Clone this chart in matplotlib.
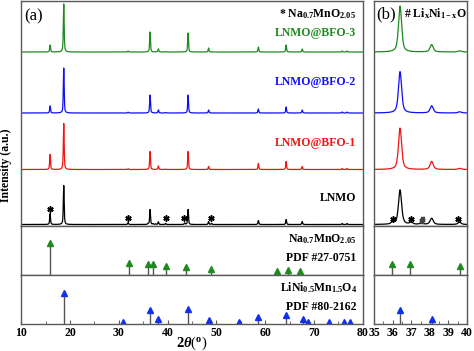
import matplotlib
matplotlib.use('Agg')
import matplotlib.pyplot as plt
import numpy as np
from matplotlib.ticker import MultipleLocator

plt.rcParams['font.family'] = 'Liberation Serif'
plt.rcParams['font.weight'] = 'bold'
plt.rcParams['mathtext.fontset'] = 'custom'
plt.rcParams['mathtext.rm'] = 'Liberation Serif:bold'
plt.rcParams['mathtext.bf'] = 'Liberation Serif:bold'
plt.rcParams['mathtext.it'] = 'Liberation Serif:italic:bold'

# ---- data ----
# XRD peaks: common positions (2theta), heights per sample (a.u.)
peak_pos = [15.9, 18.7, 31.9, 36.0, 36.4, 37.0, 37.55, 38.1, 39.6, 43.5, 44.2, 48.4, 49.0, 58.6, 64.3, 67.6, 75.8, 76.8]
h_lnmo = [11, 39, 2.0, 0.8, 15, 0.8, 0.6, 2.7, 1.0, 1.5, 15, 3.0, 1.2, 4, 5, 3, 1.0, 1.0]
h_bfo1 = [15, 46, 0.8, 0.0, 18, 0.0, 0.0, 3.5, 0.5, 0.0, 18, 3.0, 0.0, 6, 8, 3, 1.0, 1.0]
h_bfo2 = [7, 45, 0.8, 0.0, 18, 0.0, 0.0, 3.1, 0.5, 0.0, 18, 3.0, 0.0, 4, 6, 3, 1.0, 1.0]
h_bfo3 = [7, 48, 1.0, 0.0, 20, 0.0, 0.0, 3.2, 0.5, 0.0, 19, 4.0, 0.0, 5, 7, 3, 1.0, 1.0]
baselines = [1.5, 56.5, 113, 174]          # LNMO, BFO-1, BFO-2, BFO-3
samples = ['LNMO', 'LNMO@BFO-1', 'LNMO@BFO-2', 'LNMO@BFO-3']
colors = ['black', '#f01414', '#1010f0', '#1f8a1f']
zoom_gain = 2.3                             # vertical gain of panel (b)

# impurity marks on LNMO pattern
star_a_x = [15.9, 31.9, 39.6, 43.3, 48.9]
star_a_y = [17, 8, 8, 8, 8]
star_b_x = [36.0, 37.0, 39.5]
star_b_y = [7, 7, 7]
hash_b_x = [37.56]
hash_b_y = [6]

# reference patterns
na_pos = [15.9, 32.1, 35.95, 36.95, 39.6, 43.7, 48.9, 62.4, 64.6, 67.1]
na_int = [0.66, 0.25, 0.22, 0.22, 0.19, 0.16, 0.13, 0.09, 0.10, 0.09]
ln_pos = [18.7, 30.9, 36.4, 38.1, 44.2, 48.5, 54.6, 58.5, 64.3, 67.7, 68.8, 73.0, 76.2, 77.3]
ln_int = [0.64, 0.05, 0.29, 0.11, 0.30, 0.09, 0.04, 0.15, 0.18, 0.10, 0.05, 0.05, 0.05, 0.05]


def pattern(x, heights, fwhm=0.2, eta=0.6):
    y = np.zeros_like(x)
    g = fwhm / 2
    s = fwhm / 2.3548
    for p, h in zip(peak_pos, heights):
        lor = g**2 / ((x - p)**2 + g**2)
        gau = np.exp(-(x - p)**2 / (2 * s**2))
        y += h * (eta * lor + (1 - eta) * gau)
    return y


W, H = 474, 351
def box(x0, x1, y0, y1):
    return [x0 / W, 1 - y1 / H, (x1 - x0) / W, (y1 - y0) / H]

fig = plt.figure(figsize=(4.74, 3.51), dpi=100)
cols = [(21.3, 362.7, (10, 80), 10, 5), (374, 467, (35, 40), 1, 0.5)]
rows = [(1, 226), (226, 275), (275, 324)]
spine_c = '#5a5a5a'

x = np.arange(10, 80, 0.004)
heights = [h_lnmo, h_bfo1, h_bfo2, h_bfo3]

axes = []
for ci, (x0, x1, xl, maj, mnr) in enumerate(cols):
    col_axes = []
    for ri, (y0, y1) in enumerate(rows):
        ax = fig.add_axes(box(x0, x1, y0, y1))
        ax.set_xlim(*xl)
        for sp in ax.spines.values():
            sp.set_color(spine_c)
            sp.set_linewidth(1.0)
        ax.set_yticks([])
        ax.xaxis.set_major_locator(MultipleLocator(maj))
        ax.xaxis.set_minor_locator(MultipleLocator(mnr))
        ax.tick_params(axis='x', which='both', direction='in', color=spine_c,
                       labelsize=8.5, pad=2)
        ax.tick_params(axis='x', which='major', length=3, width=0.8)
        ax.tick_params(axis='x', which='minor', length=2, width=0.6)
        if ri < 2:
            ax.tick_params(axis='x', which='both', bottom=False, labelbottom=False)
        col_axes.append(ax)
    axes.append(col_axes)

# ---- measured patterns ----
for ci in range(2):
    ax = axes[ci][0]
    gain = 1 if ci == 0 else zoom_gain
    for hs, b, c in zip(heights, baselines, colors):
        ax.plot(x, b + gain * pattern(x, hs), color=c, lw=0.9)
    ax.set_ylim(0, 225)

star = dict(ls='none', marker=(6, 2, 0), ms=4.5, mew=1.1, color='black')
axes[0][0].plot(star_a_x, star_a_y, **star)
axes[1][0].plot(star_b_x, star_b_y, **star)
axes[1][0].plot(hash_b_x, hash_b_y, ls='none', marker='$\\#$', ms=4.5, color='#444444')

# ---- reference patterns ----
for ci in range(2):
    for ax, pos, inten, c in [(axes[ci][1], na_pos, na_int, '#1f8a1f'),
                              (axes[ci][2], ln_pos, ln_int, '#1030f0')]:
        ax.set_ylim(0, 1)
        ax.vlines(pos, 0, inten, color='#555555', lw=1.0)
        ax.plot(pos, inten, ls='none', marker='^', ms=5, color=c)

axes[0][2].set_xlabel(r'$2\theta$($^{\mathrm{o}}$)', fontsize=10.5, labelpad=-3)
fig.text(6 / W, 1 - 165 / H, 'Intensity (a.u.)', rotation=90, ha='center',
         va='center', fontsize=8.5)

# ---- labels ----
def t(xp, yp, s, ha='right', size=8.5, **kw):
    fig.text(xp / W, 1 - yp / H, s, ha=ha, va='center', fontsize=size, **kw)

t(34, 16, '(a)', ha='center', size=12, fontweight='normal')
t(386, 14, '(b)', ha='center', size=12, fontweight='normal')
t(356, 14, r'* Na$_{0.7}$MnO$_{2.05}$')
t(404, 14, r'# Li$_{\mathrm{x}}$Ni$_{\mathrm{1-x}}$O', ha='left')
ys = [198, 143, 82, 33]
for s, c, yp in zip(samples, colors, ys):
    t(356, yp, s, color=c)
t(356, 239, r'Na$_{0.7}$MnO$_{2.05}$')
t(356, 258, 'PDF #27-0751')
t(357, 288, r'LiNi$_{0.5}$Mn$_{1.5}$O$_{4}$')
t(356, 307.5, 'PDF #80-2162')

plt.savefig('out.png', dpi=100)
